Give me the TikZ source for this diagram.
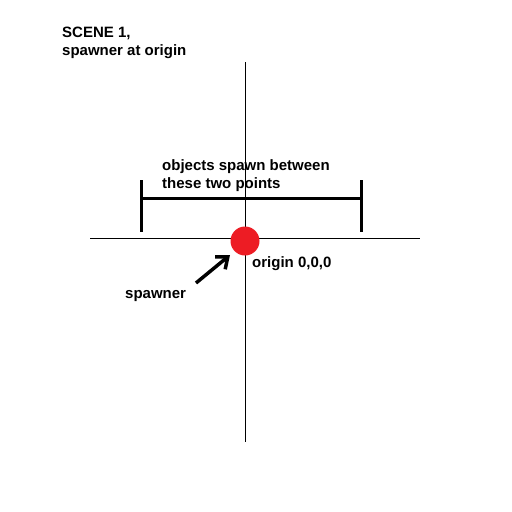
\documentclass[tikz,border=0pt]{standalone}
\usepackage{fontspec}
\setmainfont{Liberation Sans}
\usetikzlibrary{arrows.meta}

\tikzset{
    label text/.style={anchor=base west,inner sep=0pt,align=left,
        font=\bfseries\fontsize{15}{18}\selectfont},
    axis line/.style={line width=1pt},
    bracket line/.style={line width=3pt}
}

\begin{document}
\begin{tikzpicture}[x=1pt,y=-1pt]
    \useasboundingbox[fill=white] (0,0) rectangle (512,512);

    % Axes
    \draw[axis line] (245,62) -- (245,442);
    \draw[axis line] (90,238) -- (420,238);

    % Spawn range
    \coordinate (leftend) at (141,198);
    \coordinate (rightend) at (361,198);
    \draw[bracket line] (leftend) -- (rightend);
    \draw[bracket line] (141,180) -- (141,232);
    \draw[bracket line] (361,180) -- (361,232);

    % Spawner at origin
    \definecolor{paintred}{RGB}{237,28,36}
    \node[circle,fill=paintred,minimum size=29pt,inner sep=0pt] (spawner) at (245,241) {};

    % Labels (base = last line)
    \node[label text] (title) at (62,55) {SCENE 1,\\spawner at origin};
    \node[label text] (range) at (162,188) {objects spawn between\\these two points};
    \node[label text] (origin) at (252,267) {origin 0,0,0};
    \node[label text] (spawnerlabel) at (125,298) {spawner};

    % Arrow to spawner
    \coordinate (tail) at (196,283);
    \coordinate (tip) at (230,255);
    \draw[line width=3.5pt,-{Straight Barb[length=10pt,width=16pt]}] (tail) -- (tip);
\end{tikzpicture}
\end{document}
